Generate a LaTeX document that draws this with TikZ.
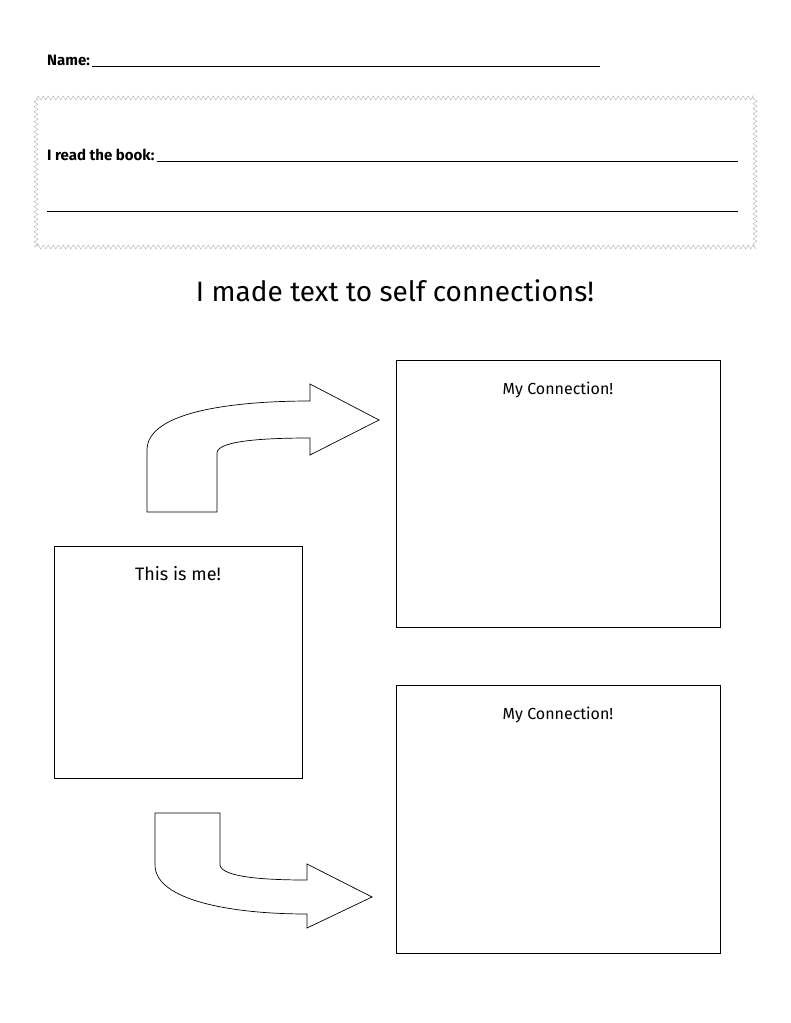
\documentclass[tikz,border=0pt]{standalone}
\usepackage{fontspec}
\setmainfont{Fira Sans}
\usetikzlibrary{decorations.pathmorphing}
\begin{document}
\begin{tikzpicture}[x=1pt,y=-1pt,
  box/.style={draw,line width=0.8pt},
  lbl/.style={font=\fontsize{15}{17}\selectfont\bfseries,anchor=base west,inner sep=0},
  arr/.style={draw,line width=0.7pt,line join=miter}]
\useasboundingbox (0,0) rectangle (791,1023);
\node[lbl] (name) at (47,65) {Name:};
\draw[line width=1pt] (name.base east) ++(2,1) coordinate (n1) -- (600,66);
\draw[gray!60,decorate,decoration={zigzag,segment length=5pt,amplitude=2pt}] (36,98) rectangle (755,247);
\node[lbl] (book) at (47,160) {I read the book:};
\draw[line width=1pt] (book.base east) ++(2,1) -- (738,161);
\coordinate (l2a) at (47,211); \coordinate (l2b) at (738,211);
\draw[line width=1pt] (l2a) -- (l2b);
\node (title) at (395,291) {\fontsize{28}{32}\selectfont I made text to self connections!};
\node[box,minimum width=248pt,minimum height=232pt] (me) at (178,662) {};
\node[anchor=north] at ([yshift=-17pt]me.north) {\fontsize{18}{21}\selectfont This is me!};
\node[box,minimum width=324pt,minimum height=267pt] (c1) at (558,493.5) {};
\node[anchor=north] at ([yshift=-19pt]c1.north) {\fontsize{16}{19}\selectfont My Connection!};
\node[box,minimum width=324pt,minimum height=268pt] (c2) at (558,819) {};
\node[anchor=north] at ([yshift=-19pt]c2.north) {\fontsize{16}{19}\selectfont My Connection!};
\draw[arr] (147,512) -- (217,512) -- (217,453) .. controls (217,440) and (270,438) .. (310,438)
  -- (310,455) -- (379,420) -- (310,384) -- (310,401) .. controls (240,401) and (147,410) .. (147,450) -- cycle;
\draw[arr] (155,813) -- (220,813) -- (220,865) .. controls (222,878) and (270,880) .. (307,880)
  -- (307,864) -- (372,897) -- (307,928) -- (307,914) .. controls (230,914) and (155,900) .. (155,865) -- cycle;
\end{tikzpicture}
\end{document}
